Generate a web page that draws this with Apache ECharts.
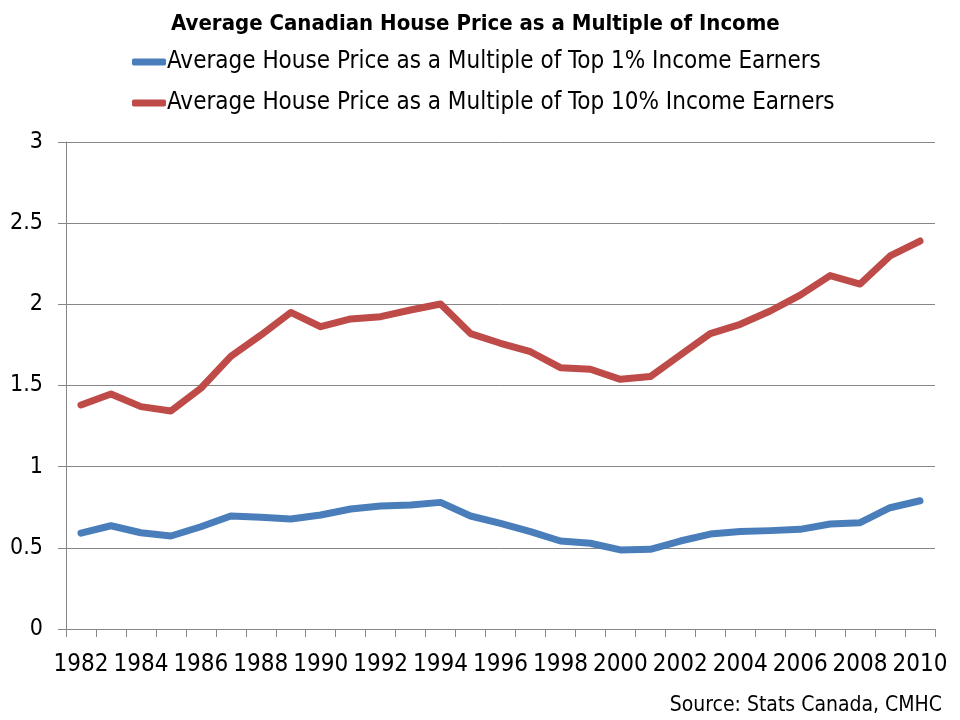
<!DOCTYPE html>
<html>
<head>
<meta charset="utf-8">
<script src="https://cdn.jsdelivr.net/npm/echarts@6/dist/echarts.min.js"></script>
<style>html,body{margin:0;padding:0;background:#fff}#c{width:960px;height:720px}</style>
</head>
<body>
<div id="c"></div>
<script>
var years = ['1982','1983','1984','1985','1986','1987','1988','1989','1990','1991','1992','1993','1994','1995','1996','1997','1998','1999','2000','2001','2002','2003','2004','2005','2006','2007','2008','2009','2010'];
var top1 = [0.59,0.636,0.593,0.573,0.63,0.696,0.688,0.678,0.702,0.739,0.758,0.764,0.78,0.696,0.651,0.6,0.542,0.528,0.487,0.491,0.542,0.585,0.6,0.606,0.614,0.647,0.655,0.747,0.79];
var top10 = [1.38,1.448,1.37,1.343,1.483,1.68,1.81,1.95,1.862,1.91,1.924,1.965,2.002,1.82,1.76,1.708,1.61,1.60,1.538,1.555,1.688,1.82,1.877,1.959,2.057,2.177,2.125,2.298,2.39];
var seriesNames = ['Average House Price as a Multiple of Top 1% Income Earners','Average House Price as a Multiple of Top 10% Income Earners'];
var yTicks = {min:0, max:3, interval:0.5};
var FONT = "'Liberation Sans Narrow','DejaVu Sans Condensed','Liberation Sans',sans-serif";
var chart = echarts.init(document.getElementById('c'), null, {renderer:'canvas'});
chart.setOption({
  animation:false,
  backgroundColor:'#fff',
  title:[{
    text:'Average Canadian House Price as a Multiple of Income',
    left:166, top:8,
    textStyle:{fontFamily:FONT, fontWeight:'bold', fontSize:22, color:'#000'}
  },{
    text:'Source: Stats Canada, CMHC',
    right:18, top:695, padding:0,
    textStyle:{fontFamily:FONT, fontWeight:'normal', fontSize:21, color:'#000'}
  }],
  legend:{
    orient:'vertical', left:127, top:45, itemGap:17,
    itemWidth:34, itemHeight:7, icon:'roundRect',
    textStyle:{fontFamily:FONT, fontSize:24, color:'#000', padding:[0,0,0,-4]},
    data:seriesNames
  },
  grid:{left:66, right:25, top:142, bottom:91, containLabel:false},
  xAxis:{
    type:'category', data:years, boundaryGap:true,
    axisLine:{lineStyle:{color:'#868686', width:1}},
    axisTick:{show:true, interval:0, length:8, lineStyle:{color:'#868686'}},
    axisLabel:{interval:1, fontFamily:FONT, fontSize:24, color:'#000', margin:24}
  },
  yAxis:{
    type:'value', min:yTicks.min, max:yTicks.max, interval:yTicks.interval,
    axisLine:{show:true, lineStyle:{color:'#868686', width:1}},
    axisTick:{show:true, length:8, lineStyle:{color:'#868686'}},
    axisLabel:{fontFamily:FONT, fontSize:23, color:'#000', margin:23},
    splitLine:{lineStyle:{color:'#868686', width:1}}
  },
  series:[{
    name:seriesNames[0], type:'line', data:top1, symbol:'none',
    lineStyle:{width:7, color:'#4a7ebb', cap:'round', join:'round'}, itemStyle:{color:'#4a7ebb'}
  },{
    name:seriesNames[1], type:'line', data:top10, symbol:'none',
    lineStyle:{width:7, color:'#be4b48', cap:'round', join:'round'}, itemStyle:{color:'#be4b48'}
  }]
});
</script>
</body>
</html>
